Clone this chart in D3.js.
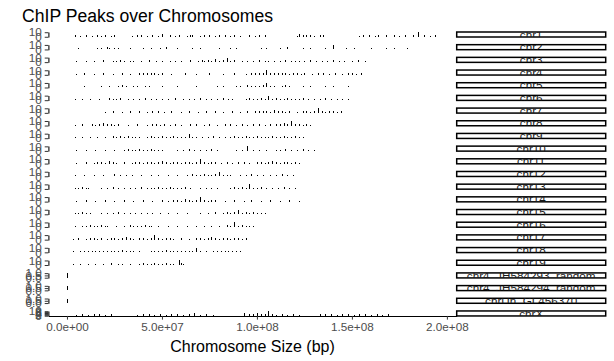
<!DOCTYPE html>
<html>
<head>
<meta charset="utf-8">
<script src="https://cdn.jsdelivr.net/npm/d3@7"></script>
<style>
body { margin: 0; background: #fff; }
text { font-family: "Liberation Sans", Arial, sans-serif; }
</style>
</head>
<body>
<script>
// peaks: [position (Mb), signal value]
const chr1 = [[4,3],[7,2],[10,4],[13,2],[16,3],[18,2],[20,5],[23,2],[25,3],[34,2],[37,4],[39,3],[42,2],[45,3],[48,2],[50,6],[54,3],[57,2],[59,3],[63,2],[65,4],[66,3],[70,2],[72,3],[75,5],[78,2],[80,3],[83,4],[86,2],[88,3],[91,2],[96,3],[99,2],[101,4],[104,3],[121,2],[122,7],[124,3],[126,4],[128,3],[130,2],[133,3],[135,4],[154,2],[156,3],[159,4],[162,2],[164,3],[168,5],[172,3],[175,2],[178,4],[182,3],[185,10],[188,3],[191,2],[194,3]]
const chr2 = [[4,2],[6,3],[9,2],[16,4],[18,3],[19,2],[21,5],[22,3],[24,2],[25,4],[27,3],[30,2],[33,3],[37,2],[40,4],[44,3],[47,2],[49,3],[52,6],[55,2],[58,3],[62,2],[66,4],[70,3],[74,2],[80,3],[83,2],[86,4],[89,3],[92,2],[102,3],[105,4],[108,2],[112,3],[116,5],[120,2],[124,3],[128,4],[132,2],[136,3],[140,10],[143,2],[147,3],[151,4],[155,2],[160,3],[164,2],[168,4],[172,3],[176,2],[179,3]]
const chr3 = [[5,2],[10,3],[14,2],[19,4],[24,3],[26,2],[28,5],[30,3],[33,2],[35,3],[39,2],[43,4],[47,2],[50,3],[54,2],[57,3],[60,2],[65,4],[69,3],[71,5],[72,3],[74,4],[76,2],[78,6],[80,3],[82,4],[84,10],[86,3],[88,4],[92,2],[95,3],[98,2],[101,4],[104,3],[106,2],[109,3],[112,2],[115,4],[118,3],[120,2],[122,3],[125,2],[128,4],[131,3],[134,2],[137,3],[140,5],[143,2],[146,3],[150,2],[153,4],[157,3]]
const chr4 = [[5,2],[9,3],[14,2],[19,3],[24,2],[29,3],[33,2],[38,4],[40,3],[42,5],[44,3],[46,4],[48,2],[50,3],[55,2],[62,3],[68,2],[75,3],[82,2],[88,3],[94,2],[97,4],[99,3],[101,5],[103,3],[105,10],[107,4],[109,3],[111,5],[113,3],[115,4],[117,2],[119,3],[121,4],[123,2],[125,3],[129,2],[132,3],[135,4],[138,2],[141,3],[145,2],[148,4],[150,3],[152,2],[155,3]]
const chr5 = [[4,2],[9,3],[13,2],[18,3],[22,4],[25,2],[27,3],[29,5],[31,3],[33,2],[35,4],[37,3],[39,2],[41,3],[43,4],[46,2],[50,3],[54,2],[58,3],[63,2],[68,3],[72,2],[79,3],[82,4],[85,2],[89,3],[91,4],[93,2],[95,5],[97,3],[99,4],[101,3],[103,6],[105,10],[107,3],[109,4],[111,2],[113,3],[115,5],[117,3],[120,2],[124,3],[128,4],[132,2],[136,3],[140,4],[144,2],[148,3],[150,2]]
const chr6 = [[4,2],[8,3],[12,2],[17,3],[22,4],[24,2],[26,3],[28,5],[32,2],[35,3],[38,2],[41,4],[44,3],[47,2],[50,3],[53,2],[57,4],[61,3],[64,2],[67,3],[70,4],[73,2],[76,3],[79,2],[82,5],[85,3],[87,2],[94,3],[96,4],[98,2],[100,3],[102,5],[104,3],[106,10],[108,3],[110,4],[112,2],[114,3],[116,4],[118,2],[120,3],[122,2],[124,4],[127,3],[130,2],[133,3],[136,4],[139,2],[142,3],[145,2],[148,3]]
const chr7 = [[20,2],[24,3],[29,2],[33,4],[38,3],[42,2],[45,3],[48,5],[51,2],[55,3],[60,2],[64,3],[69,2],[73,4],[78,3],[82,2],[87,3],[91,2],[95,4],[99,3],[101,5],[103,3],[105,4],[107,2],[109,6],[111,3],[113,4],[115,2],[117,3],[121,2],[124,3],[126,4],[128,2],[130,3],[132,10],[134,3],[136,2],[138,4],[140,3],[142,2],[144,3]]
const chr8 = [[4,2],[8,3],[13,4],[15,2],[17,3],[19,5],[21,3],[23,4],[25,2],[27,3],[32,2],[37,3],[42,2],[45,4],[47,3],[49,2],[51,3],[54,2],[57,3],[60,2],[65,3],[68,4],[72,2],[75,3],[79,2],[83,3],[86,4],[89,2],[92,3],[95,2],[98,4],[101,3],[104,2],[107,3],[110,4],[112,3],[114,5],[116,3],[118,10],[120,4],[122,3],[124,2],[126,3],[128,2]]
const chr9 = [[4,2],[8,3],[12,2],[16,3],[20,2],[24,4],[26,3],[28,5],[30,3],[32,4],[34,2],[36,3],[38,2],[42,3],[44,4],[46,2],[48,3],[50,5],[52,3],[54,2],[56,4],[58,3],[60,2],[62,3],[64,10],[66,3],[68,2],[71,3],[74,2],[77,4],[80,3],[83,2],[86,3],[88,4],[90,2],[92,3],[94,5],[96,3],[98,2],[100,4],[102,3],[104,2],[106,3],[108,4],[110,2],[112,3],[114,5],[116,3],[118,2],[120,4],[122,3],[124,2]]
const chr10 = [[5,2],[10,3],[15,2],[20,3],[25,2],[30,3],[32,4],[34,2],[36,3],[38,5],[40,3],[42,2],[44,4],[46,3],[48,2],[50,3],[58,2],[61,3],[64,4],[67,2],[70,3],[73,2],[76,4],[79,3],[89,2],[92,3],[95,10],[98,3],[101,2],[105,3],[110,2],[112,3],[115,4],[118,2],[121,3],[124,5],[127,3],[130,2]]
const chr11 = [[5,2],[10,3],[14,2],[16,4],[18,3],[20,2],[22,5],[24,3],[26,2],[30,3],[34,2],[36,4],[38,3],[40,2],[42,3],[44,4],[46,2],[48,3],[50,5],[52,3],[54,2],[56,4],[58,3],[60,2],[62,3],[64,4],[66,2],[68,3],[70,10],[72,3],[74,2],[76,4],[78,3],[81,2],[84,3],[87,2],[90,4],[93,3],[96,2],[100,3],[102,4],[104,2],[106,3],[108,5],[110,3],[112,2],[114,4],[116,3],[118,2],[120,3],[122,2]]
const chr12 = [[4,2],[9,3],[14,2],[19,3],[25,4],[28,3],[31,2],[34,3],[39,2],[44,3],[48,2],[53,3],[58,2],[63,3],[66,4],[68,2],[70,3],[72,5],[74,3],[76,2],[78,4],[80,10],[82,3],[84,2],[86,3],[91,2],[94,3],[97,4],[100,2],[103,3],[107,2],[110,3],[113,4],[116,2],[119,3]]
const chr13 = [[4,3],[6,2],[8,4],[10,3],[11,2],[18,3],[21,2],[24,4],[27,3],[30,2],[33,3],[36,2],[39,4],[42,3],[44,2],[46,3],[48,5],[50,3],[52,2],[54,4],[56,3],[58,2],[60,3],[62,4],[65,2],[70,3],[73,2],[76,3],[79,2],[86,3],[88,4],[90,2],[92,5],[94,3],[96,10],[98,3],[100,2],[102,4],[105,3],[108,2],[111,3],[114,4],[117,2],[120,3]]
const chr14 = [[5,2],[10,3],[15,2],[20,3],[25,2],[30,4],[35,2],[40,3],[45,2],[50,3],[53,2],[56,4],[58,3],[60,2],[62,5],[64,3],[66,2],[68,4],[70,10],[72,3],[74,2],[76,3],[78,4],[83,2],[88,3],[93,2],[97,3],[102,2],[107,3],[112,2],[117,3],[122,2]]
const chr15 = [[4,3],[6,2],[8,4],[10,3],[12,2],[18,3],[21,2],[24,3],[27,4],[30,2],[33,3],[36,2],[39,3],[42,2],[45,3],[49,2],[53,3],[58,2],[63,3],[70,2],[74,3],[78,4],[82,3],[84,5],[86,3],[88,4],[90,10],[92,3],[94,5],[96,3],[98,4],[100,2],[102,3],[104,2]]
const chr16 = [[4,2],[8,3],[10,2],[12,4],[14,3],[16,2],[18,5],[20,3],[21,2],[26,3],[30,2],[33,4],[35,3],[37,2],[39,3],[41,4],[43,2],[44,3],[48,2],[53,3],[58,2],[63,3],[68,2],[72,3],[76,2],[80,3],[84,4],[86,3],[88,10],[90,3],[92,4],[94,2],[96,3],[98,2]]
const chr17 = [[3,2],[6,3],[10,2],[12,4],[14,3],[16,2],[18,3],[21,2],[23,4],[25,3],[27,2],[29,3],[31,5],[33,3],[35,2],[38,3],[40,4],[42,2],[44,3],[46,10],[48,3],[50,2],[52,4],[54,3],[56,2],[60,3],[64,2],[68,3],[70,4],[72,2],[74,3],[76,5],[78,3],[80,2],[82,4],[84,3],[86,2],[88,3],[90,4],[92,2],[94,3]]
const chr18 = [[3,2],[7,3],[9,2],[11,4],[13,3],[15,2],[17,3],[19,2],[21,4],[23,3],[25,2],[27,3],[29,5],[31,3],[33,2],[35,3],[38,2],[44,3],[46,4],[48,2],[50,3],[52,5],[54,3],[56,2],[58,4],[60,3],[62,2],[64,3],[66,4],[68,10],[70,3],[73,2],[77,3],[79,2],[81,4],[83,3],[85,2],[87,3],[89,4],[91,2]]
const chr19 = [[3,2],[7,3],[11,2],[15,3],[19,2],[23,4],[27,2],[29,3],[33,2],[38,3],[40,4],[42,2],[44,3],[46,5],[48,3],[50,2],[52,4],[54,3],[56,3],[59,10],[60,4],[61,2]]
const chr4_JH584293_random = [[0.1,1]]
const chr4_JH584294_random = [[0.1,1]]
const chrUn_GL456370 = [[0.05,1]]
const chrX = [[5,2],[8,3],[11,2],[14,4],[17,3],[20,2],[23,3],[37,2],[40,3],[43,4],[46,2],[49,3],[52,2],[55,4],[58,3],[61,2],[64,3],[67,5],[70,2],[73,3],[77,2],[93,7],[96,3],[98,3],[100,5],[102,4],[104,3],[106,10],[108,3],[110,2],[113,3],[116,2],[119,3],[122,2],[133,3],[136,4],[139,3],[142,2],[145,4],[148,3],[151,2],[154,3],[157,4],[160,2],[163,3],[166,2],[169,3]]

const chromNames = ["chr1","chr2","chr3","chr4","chr5","chr6","chr7","chr8","chr9","chr10",
  "chr11","chr12","chr13","chr14","chr15","chr16","chr17","chr18","chr19",
  "chr4_JH584293_random","chr4_JH584294_random","chrUn_GL456370","chrX"]
const peakLists = [chr1,chr2,chr3,chr4,chr5,chr6,chr7,chr8,chr9,chr10,chr11,chr12,chr13,
  chr14,chr15,chr16,chr17,chr18,chr19,chr4_JH584293_random,chr4_JH584294_random,chrUn_GL456370,chrX]
const xTickValues = [0, 5e7, 1e8, 1.5e8, 2e8]
const xDataMax = 195.4e6

const width = 614, height = 361
const left = 48.4, right = 456.7
const panelTop = 32, panelH = 5, panelStep = 12.68
const stripW = 149

const svg = d3.select("body").append("svg")
  .attr("width", width).attr("height", height)

svg.append("text")
  .attr("x", 22).attr("y", 22)
  .style("font-size", "17.6px")
  .text("ChIP Peaks over Chromosomes")

const x = d3.scaleLinear()
  .domain([-0.05 * xDataMax, 1.05 * xDataMax])
  .range([left, right])

const sci = v => d3.format(".1e")(v).replace(/e([+-])(\d)$/, (m, s, d) => "e" + s + "0" + d)

chromNames.forEach(function(name, i) {
  const peaks = peakLists[i]
  const top = panelTop + i * panelStep
  const bottom = top + panelH
  const vmax = d3.max(peaks, d => d[1])
  const y = d3.scaleLinear()
    .domain([-0.05 * vmax, 1.05 * vmax])
    .range([bottom, top])

  const g = svg.append("g").attr("class", "panel")

  g.selectAll("rect")
    .data(peaks)
    .enter().append("rect")
    .attr("x", d => Math.round(x(d[0] * 1e6)))
    .attr("width", 1)
    .attr("y", d => y(d[1]))
    .attr("height", d => y(0) - y(d[1]))
    .attr("fill", "#000")
    .attr("shape-rendering", "crispEdges")

  // tiny panels: few ticks, except the busy chrX one
  const nTicks = name === "chrX" ? 6 : (vmax > 1 ? 1 : 2)
  const yAxis = d3.axisLeft(y)
    .ticks(nTicks)
    .tickSize(3.67).tickSizeOuter(0).tickPadding(2.9)
  const ya = svg.append("g")
    .attr("transform", "translate(" + left + ",0)")
    .call(yAxis)
  ya.attr("font-size", null).attr("font-family", null)
  ya.selectAll("text").style("font-size", "11.7px").attr("fill", "#4d4d4d")
  ya.selectAll(".tick line").attr("stroke", "#333")
  ya.select(".domain").attr("stroke", "#000").attr("stroke-width", 1.07)

  // strip on the right
  const clipId = "clip" + i
  svg.append("clipPath").attr("id", clipId)
    .append("rect")
    .attr("x", right).attr("y", top)
    .attr("width", stripW).attr("height", panelH)
  svg.append("rect")
    .attr("x", right).attr("y", top)
    .attr("width", stripW).attr("height", panelH)
    .attr("fill", "#fff").attr("stroke", "#000").attr("stroke-width", 1.5)
  svg.append("text")
    .attr("clip-path", "url(#" + clipId + ")")
    .attr("x", right + stripW / 2).attr("y", top + panelH / 2)
    .attr("dy", "0.35em")
    .attr("text-anchor", "middle")
    .attr("fill", "#1a1a1a")
    .style("font-size", "11.7px")
    .text(name)
})

const axisY = panelTop + (chromNames.length - 1) * panelStep + panelH
const xAxis = d3.axisBottom(x)
  .tickValues(xTickValues)
  .tickFormat(sci)
  .tickSize(3.67).tickSizeOuter(0).tickPadding(2.9)
const xa = svg.append("g")
  .attr("transform", "translate(0," + axisY + ")")
  .call(xAxis)
xa.attr("font-size", null).attr("font-family", null)
xa.selectAll("text").style("font-size", "11.7px").attr("fill", "#4d4d4d")
xa.selectAll(".tick line").attr("stroke", "#333")
xa.select(".domain").attr("stroke", "#000").attr("stroke-width", 1.07)

svg.append("text")
  .attr("x", (left + right) / 2).attr("y", 352)
  .attr("text-anchor", "middle")
  .style("font-size", "16px")
  .text("Chromosome Size (bp)")
</script>
</body>
</html>
